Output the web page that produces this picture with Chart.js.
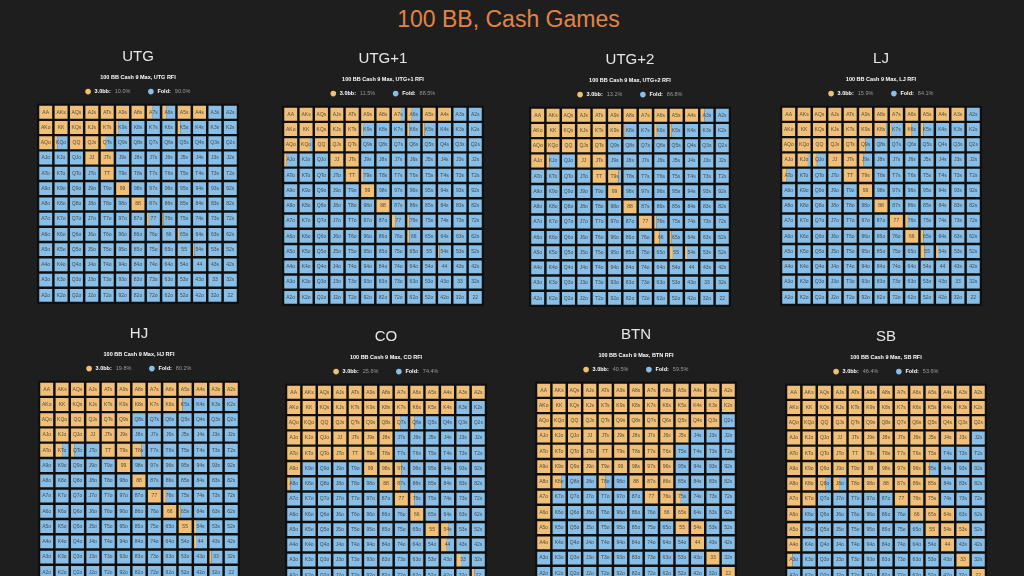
<!DOCTYPE html>
<html>
<head>
<meta charset="utf-8">
<script src="https://cdn.jsdelivr.net/npm/chart.js@4.4.1/dist/chart.umd.min.js"></script>
<style>
  html, body { margin: 0; padding: 0; background: #1e1e1e; width: 1024px; height: 576px; overflow: hidden; }
  #title { position: absolute; left: 0; width: 1017px; top: 6px; text-align: center;
           font: 23px "Liberation Sans", Arial, sans-serif; color: #e38445; }
  canvas { position: absolute; }
</style>
</head>
<body>
<div id="title">100 BB, Cash Games</div>
<canvas id="c0" width="216" height="265" style="left:30px;top:42px"></canvas>
<canvas id="c1" width="216" height="265" style="left:275px;top:44px"></canvas>
<canvas id="c2" width="216" height="265" style="left:522px;top:45px"></canvas>
<canvas id="c3" width="216" height="265" style="left:773px;top:44px"></canvas>
<canvas id="c4" width="216" height="265" style="left:31px;top:319px"></canvas>
<canvas id="c5" width="216" height="265" style="left:278px;top:322px"></canvas>
<canvas id="c6" width="216" height="265" style="left:528px;top:320px"></canvas>
<canvas id="c7" width="216" height="265" style="left:778px;top:322px"></canvas>
<script>
const ranks = ['A', 'K', 'Q', 'J', 'T', '9', '8', '7', '6', '5', '4', '3', '2'];
const positions = ['UTG', 'UTG+1', 'UTG+2', 'LJ', 'HJ', 'CO', 'BTN', 'SB'];
const raisePct = [10.0, 11.5, 13.2, 15.9, 19.8, 25.6, 40.5, 46.4];
const foldPct = [90.0, 88.5, 86.8, 84.1, 80.2, 74.4, 59.5, 53.6];

// raise frequency per hand, rows = first rank, cols = second rank
const utgRange = [
  [1, 1, 1, 1, 1, 1, 1, .4, .3, 1, 1, 0, 0],
  [1, 1, 1, 1, 1, .15, 0, 0, 0, .2, 0, 0, 0],
  [1, .2, 1, 1, .4, 0, 0, 0, 0, 0, 0, 0, 0],
  [0, 0, 0, 1, 1, 0, 0, 0, 0, 0, 0, 0, 0],
  [0, 0, 0, 0, 1, 0, 0, 0, 0, 0, 0, 0, 0],
  [0, 0, 0, 0, 0, 1, 0, 0, 0, 0, 0, 0, 0],
  [0, 0, 0, 0, 0, 0, 1, 0, 0, 0, 0, 0, 0],
  [0, 0, 0, 0, 0, 0, 0, .15, .1, 0, 0, 0, 0],
  [0, 0, 0, 0, 0, 0, 0, 0, 0, .1, 0, 0, 0],
  [0, 0, 0, 0, 0, 0, 0, 0, 0, 0, .1, 0, 0],
  [0, 0, 0, 0, 0, 0, 0, 0, 0, 0, 0, 0, 0],
  [0, 0, 0, 0, 0, 0, 0, 0, 0, 0, 0, 0, 0],
  [0, 0, 0, 0, 0, 0, 0, 0, 0, 0, 0, 0, 0]
];
const utg1Range = [
  [1, 1, 1, 1, 1, 1, 1, .7, .35, 1, 1, 0, 0],
  [1, 1, 1, 1, 1, .15, 0, 0, .15, .15, 0, 0, 0],
  [1, .8, 1, 1, 1, 0, 0, 0, 0, 0, 0, 0, 0],
  [.2, 0, 0, 1, 1, 0, 0, 0, 0, 0, 0, 0, 0],
  [0, 0, 0, 0, 1, .15, 0, 0, 0, 0, 0, 0, 0],
  [0, 0, 0, 0, 0, 1, 0, 0, 0, 0, 0, 0, 0],
  [0, 0, 0, 0, 0, 0, 1, 0, 0, 0, 0, 0, 0],
  [0, 0, 0, 0, 0, 0, 0, .25, .15, 0, 0, 0, 0],
  [0, 0, 0, 0, 0, 0, 0, 0, .15, 0, 0, 0, 0],
  [0, 0, 0, 0, 0, 0, 0, 0, 0, 0, .1, 0, 0],
  [0, 0, 0, 0, 0, 0, 0, 0, 0, 0, 0, 0, 0],
  [0, 0, 0, 0, 0, 0, 0, 0, 0, 0, 0, 0, 0],
  [0, 0, 0, 0, 0, 0, 0, 0, 0, 0, 0, 0, 0]
];
const utg2Range = [
  [1, 1, 1, 1, 1, 1, 1, 1, 1, 1, 1, .3, 0],
  [1, 1, 1, 1, 1, 1, .1, 0, .2, .15, 0, 0, 0],
  [1, 1, 1, 1, 1, 0, 0, 0, 0, 0, 0, 0, 0],
  [1, .2, 0, 1, 1, 0, 0, 0, 0, 0, 0, 0, 0],
  [0, 0, 0, 0, 1, .8, 0, 0, 0, 0, 0, 0, 0],
  [0, 0, 0, 0, 0, 1, 0, 0, 0, 0, 0, 0, 0],
  [0, 0, 0, 0, 0, 0, 1, 0, 0, 0, 0, 0, 0],
  [0, 0, 0, 0, 0, 0, 0, 1, .15, 0, 0, 0, 0],
  [0, 0, 0, 0, 0, 0, 0, 0, .4, .15, 0, 0, 0],
  [0, 0, 0, 0, 0, 0, 0, 0, 0, .25, .15, 0, 0],
  [0, 0, 0, 0, 0, 0, 0, 0, 0, 0, 0, 0, 0],
  [0, 0, 0, 0, 0, 0, 0, 0, 0, 0, 0, 0, 0],
  [0, 0, 0, 0, 0, 0, 0, 0, 0, 0, 0, 0, 0]
];
const ljRange = [
  [1, 1, 1, 1, 1, 1, 1, 1, 1, 1, 1, 1, 0],
  [1, 1, 1, 1, 1, 1, .9, .15, .5, .2, 0, 0, 0],
  [1, 1, 1, 1, 1, .5, 0, 0, 0, 0, 0, 0, 0],
  [1, .8, .3, 1, 1, .35, 0, 0, 0, 0, 0, 0, 0],
  [.35, 0, 0, 0, 1, 1, 0, 0, 0, 0, 0, 0, 0],
  [0, 0, 0, 0, 0, 1, 0, 0, 0, 0, 0, 0, 0],
  [0, 0, 0, 0, 0, 0, 1, 0, 0, 0, 0, 0, 0],
  [0, 0, 0, 0, 0, 0, 0, 1, .2, 0, 0, 0, 0],
  [0, 0, 0, 0, 0, 0, 0, 0, 1, .2, 0, 0, 0],
  [0, 0, 0, 0, 0, 0, 0, 0, 0, .3, .15, 0, 0],
  [0, 0, 0, 0, 0, 0, 0, 0, 0, 0, 0, 0, 0],
  [0, 0, 0, 0, 0, 0, 0, 0, 0, 0, 0, 0, 0],
  [0, 0, 0, 0, 0, 0, 0, 0, 0, 0, 0, 0, 0]
];
const hjRange = [
  [1, 1, 1, 1, 1, 1, 1, 1, 1, 1, 1, 1, 1],
  [1, 1, 1, 1, 1, 1, 1, 1, 1, .3, 0, 0, 0],
  [1, 1, 1, 1, 1, 1, 0, 0, 0, 0, 0, 0, 0],
  [1, 1, 1, 1, 1, 1, 0, 0, 0, 0, 0, 0, 0],
  [1, .5, .25, 0, 1, 1, .7, 0, 0, 0, 0, 0, 0],
  [0, 0, 0, 0, 0, 1, 0, 0, 0, 0, 0, 0, 0],
  [0, 0, 0, 0, 0, 0, 1, 0, 0, 0, 0, 0, 0],
  [0, 0, 0, 0, 0, 0, 0, 1, .2, 0, 0, 0, 0],
  [0, 0, 0, 0, 0, 0, 0, 0, 1, .15, 0, 0, 0],
  [0, 0, 0, 0, 0, 0, 0, 0, 0, 1, .15, 0, 0],
  [0, 0, 0, 0, 0, 0, 0, 0, 0, 0, .15, 0, 0],
  [0, 0, 0, 0, 0, 0, 0, 0, 0, 0, 0, .15, 0],
  [0, 0, 0, 0, 0, 0, 0, 0, 0, 0, 0, 0, 0]
];
const coRange = [
  [1, 1, 1, 1, 1, 1, 1, 1, 1, 1, 1, 1, 1],
  [1, 1, 1, 1, 1, 1, 1, 1, 1, 1, 1, 0, 0],
  [1, 1, 1, 1, 1, 1, 1, .4, .3, 0, 0, 0, 0],
  [1, 1, 1, 1, 1, 1, 1, 0, 0, 0, 0, 0, 0],
  [1, 1, 1, 1, 1, 1, 1, 0, 0, 0, 0, 0, 0],
  [1, 0, 0, 0, 0, 1, 1, .5, 0, 0, 0, 0, 0],
  [.25, 0, 0, 0, 0, 0, 1, .4, 0, 0, 0, 0, 0],
  [0, 0, 0, 0, 0, 0, 0, 1, .3, 0, 0, 0, 0],
  [0, 0, 0, 0, 0, 0, 0, 0, 1, 0, 0, 0, 0],
  [0, 0, 0, 0, 0, 0, 0, 0, 0, 1, .6, 0, 0],
  [0, 0, 0, 0, 0, 0, 0, 0, 0, 0, .45, 0, 0],
  [0, 0, 0, 0, 0, 0, 0, 0, 0, 0, 0, .35, 0],
  [0, 0, 0, 0, 0, 0, 0, 0, 0, 0, 0, 0, .2]
];
const btnRange = [
  [1, 1, 1, 1, 1, 1, 1, 1, 1, 1, 1, 1, 1],
  [1, 1, 1, 1, 1, 1, 1, 1, 1, 1, 1, 1, 1],
  [1, 1, 1, 1, 1, 1, 1, 1, 1, 1, 1, 1, 0],
  [1, 1, 1, 1, 1, 1, 1, 1, 1, 1, 0, 0, 0],
  [1, 1, 1, 1, 1, 1, 1, 1, 1, 0, 0, 0, 0],
  [1, 1, 1, 1, 1, 1, 1, 1, 1, 0, 0, 0, 0],
  [1, .7, 0, 0, .5, 0, 1, 1, 1, 0, 0, 0, 0],
  [1, 0, 0, 0, 0, 0, 0, 1, 1, .4, 0, 0, 0],
  [1, 0, 0, 0, 0, 0, 0, 0, 1, 1, 0, 0, 0],
  [1, 0, 0, 0, 0, 0, 0, 0, 0, 1, 1, 0, 0],
  [1, 0, 0, 0, 0, 0, 0, 0, 0, 0, 1, 0, 0],
  [0, 0, 0, 0, 0, 0, 0, 0, 0, 0, 0, 1, 0],
  [0, 0, 0, 0, 0, 0, 0, 0, 0, 0, 0, 0, 1]
];
const sbRange = [
  [1, 1, 1, 1, 1, 1, 1, 1, 1, 1, 1, 1, 1],
  [1, 1, 1, 1, 1, 1, 1, 1, 1, 1, 1, 1, 1],
  [1, 1, 1, 1, 1, 1, 1, 1, 1, 1, 1, 1, 1],
  [1, 1, 1, 1, 1, 1, 1, 1, 1, 1, 1, 1, 0],
  [1, 1, 1, 1, 1, 1, 1, 1, 1, 1, 0, 0, 0],
  [1, 1, 1, 1, 1, 1, 1, 1, 1, .3, 0, 0, 0],
  [1, 1, .6, .5, 1, 1, 1, 1, 1, 1, 0, 0, 0],
  [1, 1, 0, 0, 0, 0, 0, 1, 1, 1, 0, 0, 0],
  [1, 0, 0, 0, 0, 0, 0, 0, 1, 1, 1, 0, 0],
  [1, 0, 0, 0, 0, 0, 0, 0, 0, 1, 1, 1, 0],
  [1, 0, 0, 0, 0, 0, 0, 0, 0, 0, 1, 0, 0],
  [.4, 0, 0, 0, 0, 0, 0, 0, 0, 0, 0, 1, 0],
  [0, 0, 0, 0, 0, 0, 0, 0, 0, 0, 0, 0, 1]
];
const ranges = [utgRange, utg1Range, utg2Range, ljRange, hjRange, coRange, btnRange, sbRange];

const ORANGE = '#f1c078';
const BLUE = '#89bfe6';
const CELL_PAD = 0.08;
const FONT = '"Liberation Sans", Arial, sans-serif';
Chart.defaults.font.family = FONT;

function handName(i, j) {
  if (i === j) return ranks[i] + ranks[j];
  return i < j ? ranks[i] + ranks[j] + 's' : ranks[j] + ranks[i] + 'o';
}

function cellDatasets(range) {
  const sets = [];
  const inner = 1 - 2 * CELL_PAD;
  ranks.forEach((_, j) => {
    sets.push({
      label: '3.0bb',
      data: range.map(row => row[j] > 0 ? [j + CELL_PAD, j + CELL_PAD + row[j] * inner] : null),
      backgroundColor: ORANGE
    });
    sets.push({
      label: 'Fold',
      data: range.map(row => row[j] < 1 ? [j + CELL_PAD + row[j] * inner, j + 1 - CELL_PAD] : null),
      backgroundColor: BLUE
    });
  });
  return sets;
}

const gridBack = {
  id: 'gridBack',
  beforeDatasetsDraw(chart) {
    const { ctx, chartArea: a } = chart;
    ctx.save();
    ctx.fillStyle = '#0f0f0f';
    ctx.fillRect(a.left - 1, a.top - 1, a.width + 2, a.height + 2);
    ctx.restore();
  }
};

const handLabels = {
  id: 'handLabels',
  afterDatasetsDraw(chart) {
    const { ctx, scales: { x, y } } = chart;
    ctx.save();
    ctx.font = '5px ' + FONT;
    ctx.fillStyle = 'rgba(45,45,45,0.8)';
    ctx.textAlign = 'center';
    ctx.textBaseline = 'middle';
    ranks.forEach((_, i) => ranks.forEach((_, j) => {
      ctx.fillText(handName(i, j), x.getPixelForValue(j + 0.5), y.getPixelForValue(i));
    }));
    ctx.restore();
  }
};

// two-item legend with bold label and grey value
const rangeLegend = {
  id: 'rangeLegend',
  afterDraw(chart, args, opts) {
    const { ctx, chartArea: a } = chart;
    const y = a.top - 13;
    const items = [
      { color: ORANGE, label: '3.0bb:', value: opts.raise.toFixed(1) + '%' },
      { color: BLUE, label: 'Fold:', value: opts.fold.toFixed(1) + '%' }
    ];
    const bold = 'bold 5.5px ' + FONT, plain = '5.5px ' + FONT;
    ctx.save();
    let total = 0;
    items.forEach(it => {
      ctx.font = bold; it.lw = ctx.measureText(it.label).width;
      ctx.font = plain; it.vw = ctx.measureText(it.value).width;
      it.w = 5 + 4 + it.lw + 4 + it.vw;
      total += it.w;
    });
    total += 18;
    let x = (a.left + a.right) / 2 - total / 2;
    ctx.textBaseline = 'middle';
    items.forEach(it => {
      ctx.fillStyle = it.color;
      ctx.beginPath();
      ctx.arc(x + 2.5, y, 2.8, 0, Math.PI * 2);
      ctx.fill();
      x += 9;
      ctx.font = bold; ctx.fillStyle = '#ffffff';
      ctx.fillText(it.label, x, y);
      x += it.lw + 4;
      ctx.font = plain; ctx.fillStyle = '#9a9a9a';
      ctx.fillText(it.value, x, y);
      x += it.vw + 18;
    });
    ctx.restore();
  }
};

positions.forEach((pos, k) => {
  new Chart(document.getElementById('c' + k), {
    type: 'bar',
    data: { labels: ranks, datasets: cellDatasets(ranges[k]) },
    options: {
      indexAxis: 'y',
      responsive: false,
      animation: false,
      datasets: { bar: { grouped: false, barPercentage: 1, categoryPercentage: 0.84, borderWidth: 0 } },
      layout: { padding: { left: 8, right: 8, top: 0, bottom: 4 } },
      scales: {
        x: { type: 'linear', min: 0, max: 13, display: false },
        y: { display: false }
      },
      plugins: {
        legend: { display: false },
        tooltip: { enabled: false },
        title: {
          display: true, text: pos, color: '#e8e8e8',
          font: { size: 15, weight: 'normal' }, padding: { top: 6, bottom: 8 }
        },
        subtitle: {
          display: true, text: '100 BB Cash 9 Max, ' + pos + ' RFI', color: '#ffffff',
          font: { size: 5.5, weight: 'bold' }, padding: { top: 0, bottom: 24 }
        },
        rangeLegend: { raise: raisePct[k], fold: foldPct[k] }
      }
    },
    plugins: [gridBack, handLabels, rangeLegend]
  });
});
</script>
</body>
</html>
